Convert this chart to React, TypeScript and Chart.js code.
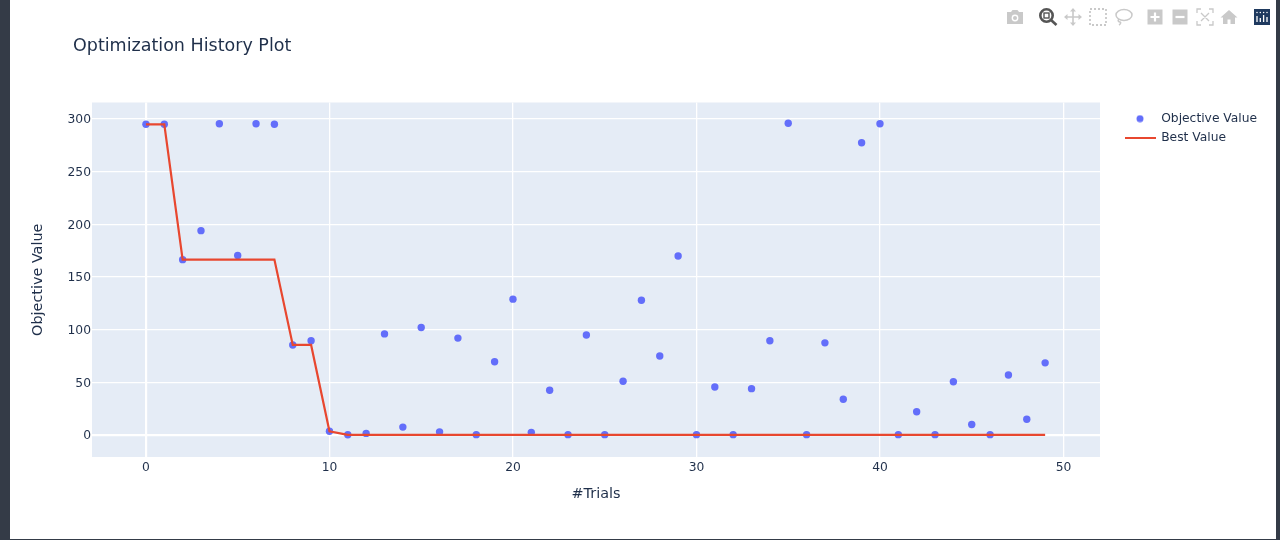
import React, { useEffect, useRef } from "react";
import { Chart, registerables } from "chart.js";

Chart.register(...registerables);

const trials = [0,1,2,3,4,5,6,7,8,9,10,11,12,13,14,15,16,17,18,19,20,21,22,23,24,25,26,27,28,29,30,31,32,33,34,35,36,37,38,39,40,41,42,43,44,45,46,47,48,49];
const objectiveValues = [295,295,166.5,194,295.5,170.5,295.5,295,85.5,89.5,3.5,0.2,1.5,96,7.5,102,3,92,0.3,69.5,129,2.5,42.5,0.3,95,0.3,51,128,75,170,0.3,45.5,0.3,44,89.5,296,0.3,87.5,34,277.5,295.5,0.3,22,0.3,50.5,10,0.3,57,15,68.5];
const bestValues = [295,295,166.5,166.5,166.5,166.5,166.5,166.5,85.5,85.5,3.5,0.2,0.2,0.2,0.2,0.2,0.2,0.2,0.2,0.2,0.2,0.2,0.2,0.2,0.2,0.2,0.2,0.2,0.2,0.2,0.2,0.2,0.2,0.2,0.2,0.2,0.2,0.2,0.2,0.2,0.2,0.2,0.2,0.2,0.2,0.2,0.2,0.2,0.2,0.2];
const xTicks = [0, 10, 20, 30, 40, 50];
const yTicks = [0, 50, 100, 150, 200, 250, 300];

const TEXT = "#1f2f4a";
const FONT = '"DejaVu Sans", sans-serif';
const BLUE = "#636efa";
const RED = "#e8472f";

function swatch(draw: (c: CanvasRenderingContext2D) => void) {
  const cv = document.createElement("canvas");
  cv.width = 36;
  cv.height = 8;
  const c = cv.getContext("2d")!;
  draw(c);
  return cv;
}

const layoutFix = {
  id: "layoutFix",
  beforeDraw(chart: any) {
    const { ctx, chartArea: a } = chart;
    ctx.save();
    ctx.fillStyle = "#e5ecf6";
    ctx.fillRect(a.left, a.top, a.right - a.left, a.bottom - a.top);
    ctx.restore();
  },
  afterLayout(chart: any) {
    if (chart.legend) {
      chart.legend.left = 1116;
      chart.legend.top = 105.5;
      chart.legend.right = 1276;
      chart.legend.bottom = 160;
    }
    if (chart.titleBlock) {
      chart.titleBlock.left = 73;
    }
  },
};

function Toolbar() {
  const g = "#c9c9c9";
  const icon = { position: "absolute" as const, top: 7, width: 20, height: 20 };
  return (
    <>
      <svg style={{ ...icon, left: 1005 }} viewBox="0 0 20 20"><path fill={g} d="M2 5h4l1.5-2h5L14 5h4v12H2z" /><circle cx="10" cy="11" r="3.4" fill="#fff" /><circle cx="10" cy="11" r="2" fill={g} /></svg>
      <svg style={{ ...icon, left: 1038 }} viewBox="0 0 20 20"><circle cx="8.5" cy="8.5" r="6.2" fill="none" stroke="#555" strokeWidth="2.6" /><rect x="6" y="6" width="5" height="5" fill="none" stroke="#555" strokeWidth="1.4" /><path d="M13 13l5.5 5" stroke="#555" strokeWidth="2.6" /></svg>
      <svg style={{ ...icon, left: 1063 }} viewBox="0 0 20 20"><path d="M10 2v16M2 10h16" stroke={g} strokeWidth="1.6" /><path fill={g} d="M10 1l3 3.5H7zM10 19l3-3.5H7zM1 10l3.5-3v6zM19 10l-3.5-3v6z" /></svg>
      <svg style={{ ...icon, left: 1088 }} viewBox="0 0 20 20"><rect x="2" y="2" width="16" height="16" fill="none" stroke={g} strokeWidth="1.8" strokeDasharray="2 2" /></svg>
      <svg style={{ ...icon, left: 1113 }} viewBox="0 0 20 20"><ellipse cx="11" cy="8" rx="8" ry="5.5" fill="none" stroke={g} strokeWidth="1.5" /><path d="M6 12c-2 2 0 3 1 3s1 2-1 3" fill="none" stroke={g} strokeWidth="1.5" /></svg>
      <svg style={{ ...icon, left: 1145 }} viewBox="0 0 20 20"><rect x="2.5" y="2.5" width="15" height="15" fill={g} /><path d="M10 5.5v9M5.5 10h9" stroke="#fff" strokeWidth="2.2" /></svg>
      <svg style={{ ...icon, left: 1170 }} viewBox="0 0 20 20"><rect x="2.5" y="2.5" width="15" height="15" fill={g} /><path d="M5.5 10h9" stroke="#fff" strokeWidth="2.2" /></svg>
      <svg style={{ ...icon, left: 1195 }} viewBox="0 0 20 20"><path d="M2 6V2h4M14 2h4v4M18 14v4h-4M6 18H2v-4M6 6l8 8M14 6l-8 8" fill="none" stroke={g} strokeWidth="1.3" /></svg>
      <svg style={{ ...icon, left: 1219 }} viewBox="0 0 20 20"><path fill={g} d="M10 3L1.5 10.5H4V17h4.5v-4.5h3V17H16v-6.5h2.5z" /></svg>
      <svg style={{ ...icon, left: 1254, top: 9, width: 16, height: 16 }} viewBox="0 0 16 16"><rect width="16" height="16" fill="#1f3a5f" /><path d="M3 7v6M6.3 9v4M9.6 6v7M13 8v5" stroke="#fff" strokeWidth="1.3" /><path d="M3 3.5h.01M6.3 3.5h.01M9.6 3.5h.01M13 3.5h.01" stroke="#fff" strokeWidth="1.5" strokeLinecap="round" /></svg>
    </>
  );
}

export default function App() {
  const ref = useRef<HTMLCanvasElement>(null);

  useEffect(() => {
    document.body.style.margin = "0";
    document.body.style.background = "#343b47";
    const dotImage = swatch((c) => {
      c.fillStyle = BLUE;
      c.beginPath();
      c.arc(19, 4, 3.5, 0, Math.PI * 2);
      c.fill();
    });
    const lineImage = swatch((c) => {
      c.fillStyle = RED;
      c.fillRect(4, 3, 31, 2);
    });
    const chart = new Chart(ref.current!, {
      type: "scatter",
      data: {
        datasets: [
          {
            label: "Objective Value",
            data: trials.map((t, i) => ({ x: t, y: objectiveValues[i] })),
            backgroundColor: BLUE,
            borderColor: BLUE,
            pointRadius: 3.7,
            pointBorderWidth: 0,
            showLine: false,
            order: 2,
          },
          {
            label: "Best Value",
            data: trials.map((t, i) => ({ x: t, y: bestValues[i] })),
            borderColor: RED,
            backgroundColor: RED,
            borderWidth: 2.2,
            pointRadius: 0,
            showLine: true,
            order: 1,
          },
        ],
      },
      options: {
        responsive: false,
        animation: false,
        layout: { padding: { left: 0, right: 180, top: 0, bottom: 0 } },
        scales: {
          x: {
            type: "linear",
            min: -2.94,
            max: 51.99,
            afterBuildTicks: (s: any) => { s.ticks = xTicks.map((value) => ({ value })); },
            afterFit: (s: any) => { s.height = 83; },
            border: { display: false },
            grid: {
              color: "#ffffff",
              lineWidth: (c: any) => (c.tick && c.tick.value === 0 ? 2.2 : 1.3),
              drawTicks: false,
            },
            ticks: { color: TEXT, font: { family: FONT, size: 12.3 }, padding: 3, maxRotation: 0, autoSkip: false, callback: (v: any) => String(v) },
            title: { display: true, text: "#Trials", color: TEXT, font: { family: FONT, size: 14.4 }, padding: { top: 19, bottom: 37 } },
          },
          y: {
            min: -20.9,
            max: 315.7,
            afterBuildTicks: (s: any) => { s.ticks = yTicks.map((value) => ({ value })); },
            afterFit: (s: any) => { s.width = 92; },
            border: { display: false },
            grid: {
              color: "#ffffff",
              lineWidth: (c: any) => (c.tick && c.tick.value === 0 ? 2.2 : 1.3),
              drawTicks: false,
            },
            ticks: { color: TEXT, font: { family: FONT, size: 12.3 }, padding: 1, labelOffset: 1, autoSkip: false, callback: (v: any) => String(v) },
            title: { display: true, text: "Objective Value", color: TEXT, font: { family: FONT, size: 14.4 }, padding: { top: 29.5, bottom: 0 } },
          },
        },
        plugins: {
          title: {
            display: true,
            text: "Optimization History Plot",
            align: "start",
            color: TEXT,
            font: { family: FONT, size: 17.5, weight: "normal", lineHeight: 1.2 },
            padding: { top: 35.5, bottom: 46 },
          },
          legend: {
            display: true,
            position: "chartArea",
            align: "start",
            labels: {
              color: TEXT,
              font: { family: FONT, size: 12.3 },
              usePointStyle: true,
              pointStyleWidth: 32,
              padding: 7,
              generateLabels: () => [
                { text: "Objective Value", pointStyle: dotImage, fontColor: TEXT, datasetIndex: 0 },
                { text: "Best Value", pointStyle: lineImage, fontColor: TEXT, datasetIndex: 1 },
              ],
            },
          },
          tooltip: { enabled: false },
        },
      } as any,
      plugins: [layoutFix],
    });
    return () => chart.destroy();
  }, []);

  return (
    <div style={{ position: "absolute", left: 0, top: 0, width: 1280, height: 540, background: "#343b47", overflow: "hidden" }}>
      <div style={{ position: "absolute", left: 10, top: 0, width: 1266, height: 539, background: "#fff" }} />
      <canvas ref={ref} width={1280} height={540} style={{ position: "absolute", left: 0, top: 0, display: "block" }} />
      <Toolbar />
    </div>
  );
}
